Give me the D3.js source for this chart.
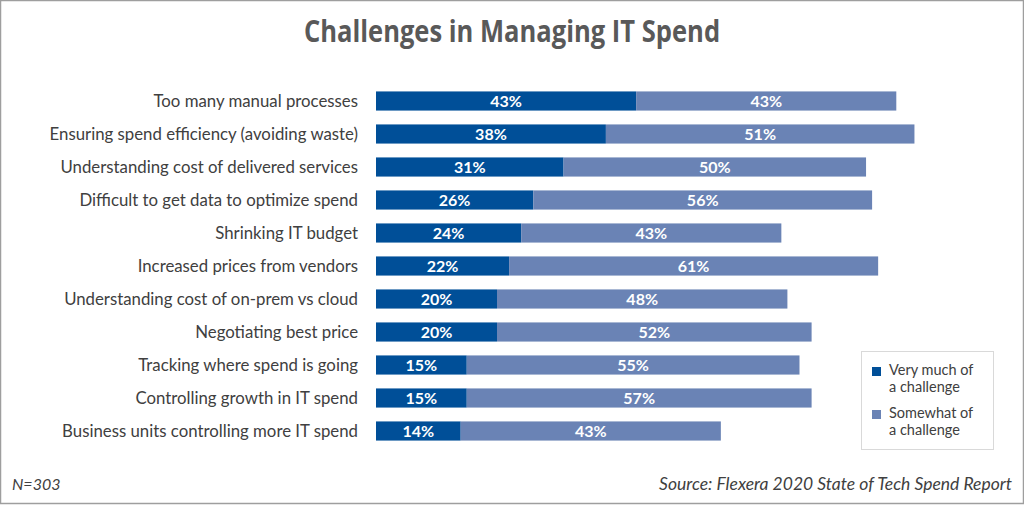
<!DOCTYPE html>
<html lang="en">
<head>
<meta charset="utf-8">
<title>Challenges in Managing IT Spend</title>
<script src="https://d3js.org/d3.v7.min.js"></script>
<style>
  body { margin: 0; background: #fff; }
  svg { display: block; }
</style>
</head>
<body>
<script>
// data
var categories = [
  "Too many manual processes",
  "Ensuring spend efficiency (avoiding waste)",
  "Understanding cost of delivered services",
  "Difficult to get data to optimize spend",
  "Shrinking IT budget",
  "Increased prices from vendors",
  "Understanding cost of on-prem vs cloud",
  "Negotiating best price",
  "Tracking where spend is going",
  "Controlling growth in IT spend",
  "Business units controlling more IT spend"
];
var veryMuch = [43, 38, 31, 26, 24, 22, 20, 20, 15, 15, 14];
var somewhat = [43, 51, 50, 56, 43, 61, 48, 52, 55, 57, 43];
var seriesNames = ["Very much of a challenge", "Somewhat of a challenge"];

var w = 1024, h = 505;
var colors = ["#004f98", "#6a83b5"];
var font = "Lato, 'Open Sans', sans-serif";

var svg = d3.select("body").append("svg").attr("width", w).attr("height", h);

// frame
svg.append("rect").attr("x", 0.5).attr("y", 0.5).attr("width", w - 1).attr("height", h - 2)
  .attr("fill", "#fff").attr("stroke", "#9e9e9e").attr("stroke-width", 1.5);

// title (squeezed horizontally to mimic the condensed original)
svg.append("text").attr("transform", "translate(512,42) scale(0.852,1)")
  .attr("text-anchor", "middle")
  .attr("font-family", "'Liberation Sans Narrow', 'Open Sans', sans-serif")
  .attr("font-weight", "bold").attr("font-size", 30).attr("fill", "#595959")
  .text("Challenges in Managing IT Spend");

var x = d3.scaleLinear().domain([0, 100]).range([376, 981]);
var y = d3.scaleBand().domain(categories).range([84.5, 447.5])
  .paddingInner(0.42).paddingOuter(0.21);

var rows = categories.map(function (c, i) {
  return { cat: c, a: veryMuch[i], b: somewhat[i] };
});

// category labels
svg.append("g").selectAll("text").data(rows).enter().append("text")
  .attr("x", 358).attr("y", d => y(d.cat) + y.bandwidth() / 2)
  .attr("dy", "0.35em").attr("text-anchor", "end")
  .attr("font-family", font).attr("font-size", 16.8)
  .attr("fill", "#404040")
  .text(d => d.cat);

// segments
var g = svg.append("g");
g.selectAll("rect.a").data(rows).enter().append("rect").attr("class", "a")
  .attr("x", x(0)).attr("y", d => y(d.cat))
  .attr("width", d => x(d.a) - x(0)).attr("height", y.bandwidth())
  .attr("fill", colors[0]);
g.selectAll("rect.b").data(rows).enter().append("rect").attr("class", "b")
  .attr("x", d => x(d.a)).attr("y", d => y(d.cat))
  .attr("width", d => x(d.a + d.b) - x(d.a)).attr("height", y.bandwidth())
  .attr("fill", colors[1]);

// value labels
var lab = svg.append("g").attr("font-family", font)
  .attr("font-weight", "bold").attr("font-size", 16).attr("fill", "#fff")
  .attr("text-anchor", "middle");
lab.selectAll("text.a").data(rows).enter().append("text")
  .attr("x", d => (x(0) + x(d.a)) / 2).attr("y", d => y(d.cat) + y.bandwidth() / 2)
  .attr("dy", "0.36em").text(d => d.a + "%");
lab.selectAll("text.b").data(rows).enter().append("text")
  .attr("x", d => (x(d.a) + x(d.a + d.b)) / 2).attr("y", d => y(d.cat) + y.bandwidth() / 2)
  .attr("dy", "0.36em").text(d => d.b + "%");

// legend
var lg = svg.append("g");
lg.append("rect").attr("x", 861.5).attr("y", 351.5).attr("width", 132).attr("height", 98)
  .attr("fill", "#fff").attr("stroke", "#d9d9d9");
var legendLines = [["Very much of", "a challenge"], ["Somewhat of", "a challenge"]];
seriesNames.forEach(function (s, i) {
  var top = 367 + i * 43;
  lg.append("rect").attr("x", 872).attr("y", top).attr("width", 9).attr("height", 9)
    .attr("fill", colors[i]);
  legendLines[i].forEach(function (ln, j) {
    lg.append("text").attr("x", 889).attr("y", top + 8 + j * 17)
      .attr("font-family", font).attr("font-size", 14.5)
      .attr("fill", "#404040").text(ln);
  });
});

// footnotes
svg.append("text").attr("x", 12).attr("y", 490)
  .attr("font-family", font).attr("font-style", "italic")
  .attr("font-size", 16).attr("fill", "#404040").text("N=303");
svg.append("text").attr("x", 1012).attr("y", 490).attr("text-anchor", "end")
  .attr("font-family", font).attr("font-style", "italic")
  .attr("font-size", 17.5).attr("fill", "#404040")
  .text("Source: Flexera 2020 State of Tech Spend Report");
</script>
</body>
</html>
